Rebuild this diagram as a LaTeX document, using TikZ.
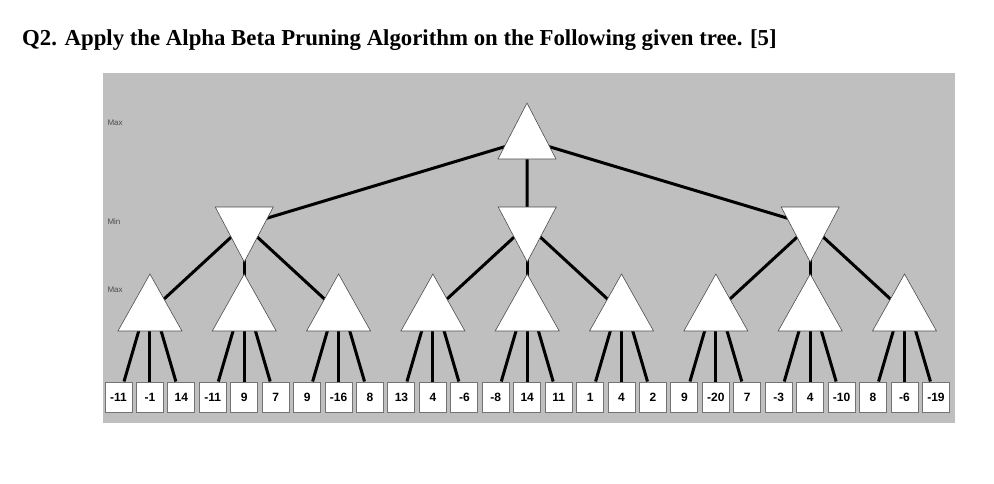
\documentclass[tikz,border=0pt]{standalone}
\usepackage{fontspec}
\setmainfont{Liberation Serif}
\setsansfont{Liberation Sans}
\begin{document}
\begin{tikzpicture}[x=1pt,y=-1pt,
  tri/.style={fill=white,draw=black!70,line width=0.6pt},
  edge/.style={line width=3pt,black},
  leaf/.style={draw=black!55,fill=white,line width=1pt,minimum width=27pt,minimum height=30pt,inner sep=0pt,font=\sffamily\bfseries\fontsize{12}{12}\selectfont},
  lvl/.style={font=\sffamily\fontsize{8}{8}\selectfont,text=black!70,anchor=west}]
\useasboundingbox (0,0) rectangle (994,483);
\node[anchor=base west,font=\bfseries\fontsize{22.8}{24}\selectfont,inner sep=0pt] (title) at (22,45) {Q2. Apply the Alpha Beta Pruning Algorithm on the Following given tree. [5]};
\fill[black!25] (103,73) rectangle (955,423);
\node[lvl] (l1) at (104,123) {Max};
\node[lvl] (l2) at (104,222) {Min};
\node[lvl] (l3) at (104,290) {Max};
\coordinate (r) at (527,140);
\foreach \m in {0,1,2}{
  \pgfmathsetmacro{\mx}{118.5+31.44*(9*\m+4)}
  \coordinate (m\m) at (\mx,225);
  \draw[edge] (r) -- (m\m);
  \foreach \k in {0,1,2}{
    \pgfmathsetmacro{\kx}{118.5+31.44*(9*\m+3*\k+1)}
    \coordinate (x\m\k) at (\kx,312);
    \draw[edge] (m\m) -- (x\m\k);
  }
}
\def\vals{{-11,-1,14,-11,9,7,9,-16,8,13,4,-6,-8,14,11,1,4,2,9,-20,7,-3,4,-10,8,-6,-19}}
\foreach \i in {0,...,26}{
  \pgfmathsetmacro{\lx}{118.5+31.44*\i}
  \pgfmathtruncatemacro{\v}{\vals[\i]}
  \node[leaf] (f\i) at (\lx,397) {\v};
}
\foreach \j in {0,...,8}{
  \pgfmathsetmacro{\cx}{118.5+31.44*(3*\j+1)}
  \pgfmathtruncatemacro{\a}{3*\j}
  \pgfmathtruncatemacro{\b}{3*\j+1}
  \pgfmathtruncatemacro{\c}{3*\j+2}
  \draw[edge] (\cx-8,320) -- ([xshift=5.5pt]f\a.north);
  \draw[edge] (\cx,320) -- (f\b.north);
  \draw[edge] (\cx+8,320) -- ([xshift=-5.5pt]f\c.north);
  \draw[tri] (\cx,274) -- (\cx+32,331) -- (\cx-32,331) -- cycle;
}
\foreach \m in {0,1,2}{
  \pgfmathsetmacro{\mx}{118.5+31.44*(9*\m+4)}
  \draw[tri] (\mx-29,207) -- (\mx+29,207) -- (\mx,262) -- cycle;
}
\draw[tri] (527,103) -- (556,159) -- (498,159) -- cycle;
\end{tikzpicture}
\end{document}
